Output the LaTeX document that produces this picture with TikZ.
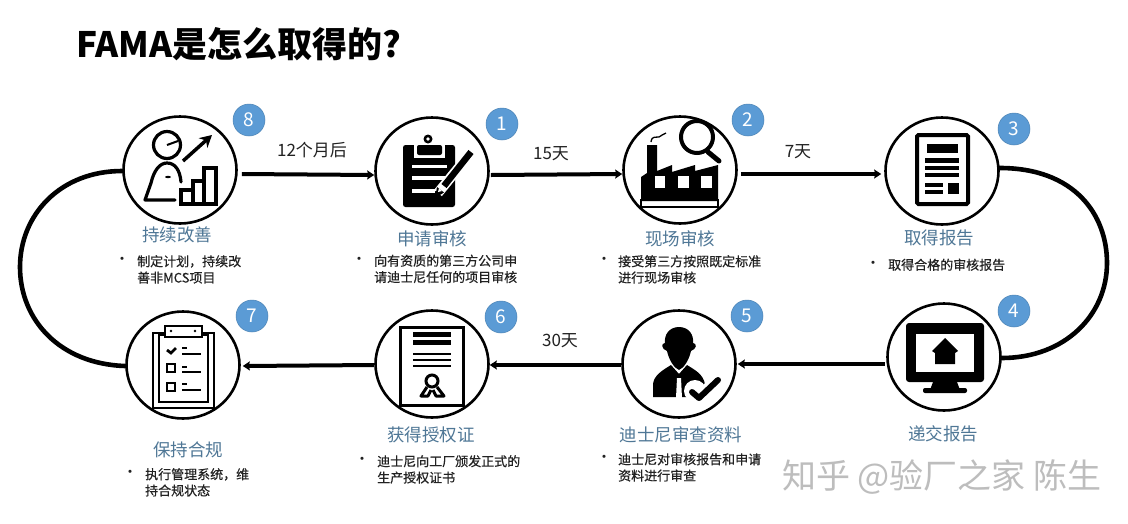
\documentclass[tikz,border=0pt]{standalone}
\usepackage{fontspec}
\setmainfont{Noto Sans CJK SC}
\newfontfamily\bodyface[FakeBold=0.5]{Noto Sans CJK SC}
\usetikzlibrary{arrows.meta,shapes.geometric}
\definecolor{badgeblue}{HTML}{5B9BD5}
\definecolor{headblue}{HTML}{4F7796}
\definecolor{bodyink}{HTML}{222222}
\definecolor{markgray}{HTML}{BDBDBD}
\tikzset{
  stepring/.style={draw=black,line width=2.6pt,ellipse,fill=none,inner sep=0pt,minimum width=113pt,minimum height=107pt},
  badge/.style={circle,fill=badgeblue,draw=badgeblue!85!black,line width=.5pt,minimum size=32pt,inner sep=0pt,text=white,font=\fontsize{19}{19}\selectfont},
  flow/.style={line width=4pt,-{Stealth[length=7pt,width=9pt,inset=1pt]}},
  loopline/.style={line width=4.6pt,line cap=round},
  gaplabel/.style={font=\fontsize{17}{17}\selectfont,text=bodyink,inner sep=0pt},
  headlabel/.style={font=\fontsize{17.5}{17.5}\selectfont,text=headblue,inner sep=0pt},
  bodytext/.style={font=\fontsize{13}{16.3}\bodyface\selectfont,text=bodyink,align=left,anchor=north west,inner sep=0pt},
  dotmark/.style={font=\fontsize{15}{15}\selectfont,text=bodyink,inner sep=0pt},
  ink/.style={draw=black,fill=none,line width=3.2pt},
  paper/.style={fill=white,draw=none}
}
\begin{document}
\begin{tikzpicture}[x=1pt,y=-1pt]
\useasboundingbox (0,0) rectangle (1128,523);
\fill[white] (0,0) rectangle (1128,523);

\node[anchor=west,inner sep=0pt,font=\fontsize{35}{35}\selectfont\bfseries] (title) at (76,44) {FAMA是怎么取得的?};

% rings
\node[stepring] (n8) at (180,170) {};
\node[stepring] (n1) at (432,171) {};
\node[stepring] (n2) at (680,170) {};
\node[stepring] (n3) at (942,171) {};
\node[stepring] (n4) at (944,357) {};
\node[stepring] (n5) at (679,364) {};
\node[stepring] (n6) at (432,364) {};
\node[stepring] (n7) at (183,365) {};

% badges
\node[badge] (b8) at (249,120) {8};
\node[badge] (b1) at (502,124) {1};
\node[badge] (b2) at (748,120) {2};
\node[badge] (b3) at (1014,129) {3};
\node[badge] (b4) at (1014,311) {4};
\node[badge] (b5) at (747,316) {5};
\node[badge] (b6) at (501,317) {6};
\node[badge] (b7) at (252,316) {7};

% connectors
\draw[flow] ([yshift=-4pt,xshift=4pt]n8.east) -- ([yshift=-4pt]n1.west);
\draw[flow] ([yshift=-4pt,xshift=1pt]n1.east) -- ([yshift=-4pt]n2.west);
\draw[flow] ([yshift=-4pt,xshift=3pt]n2.east) -- ([yshift=-3pt,xshift=-3pt]n3.west);
\draw[flow] ([yshift=-7pt,xshift=-1pt]n4.west) -- ([yshift=0pt,xshift=1pt]n5.east);
\draw[flow] ([yshift=-1pt]n5.west) -- ([yshift=-1pt]n6.east);
\draw[flow] ([yshift=-1pt]n6.west) -- ([yshift=-1pt,xshift=2pt]n7.east);
\draw[loopline] ([yshift=3pt]n3.east) .. controls (1075,168) and (1107,215) .. (1107,263)
   .. controls (1107,315) and (1065,358) .. ([yshift=-1pt]n4.east);
\draw[loopline] ([yshift=-1pt]n7.west) .. controls (60,364) and (20,320) .. (20,267)
   .. controls (20,215) and (60,171) .. ([yshift=-1pt]n8.west);

% gap labels
\node[gaplabel] (g1) at (312,150) {12个月后};
\node[gaplabel] (g2) at (551,154) {15天};
\node[gaplabel] (g3) at (798,152) {7天};
\node[gaplabel] (g4) at (560,341) {30天};

% step titles
\node[headlabel] (h8) at (177,235) {持续改善};
\node[headlabel] (h1) at (432,239) {申请审核};
\node[headlabel] (h2) at (680,239) {现场审核};
\node[headlabel] (h3) at (939,238) {取得报告};
\node[headlabel] (h4) at (943,434) {递交报告};
\node[headlabel] (h5) at (681,435) {迪士尼审查资料};
\node[headlabel] (h6) at (431,435) {获得授权证};
\node[headlabel] (h7) at (188,450) {保持合规};

% bullets and text
\node[dotmark] (d8) at (122,261) {•};
\node[bodytext] (t8) at (137,255) {制定计划，持续改\\善非MCS项目};
\node[dotmark] (d1) at (359,261) {•};
\node[bodytext] (t1) at (374,254.5) {向有资质的第三方公司申\\请迪士尼任何的项目审核};
\node[dotmark] (d2) at (604,261) {•};
\node[bodytext] (t2) at (618,255) {接受第三方按照既定标准\\进行现场审核};
\node[dotmark] (d3) at (873,265) {•};
\node[bodytext] (t3) at (888,258.5) {取得合格的审核报告};
\node[dotmark] (d5) at (604,459) {•};
\node[bodytext] (t5) at (618,453) {迪士尼对审核报告和申请\\资料进行审查};
\node[dotmark] (d6) at (362,461) {•};
\node[bodytext] (t6) at (377,455) {迪士尼向工厂颁发正式的\\生产授权证书};
\node[dotmark] (d7) at (130,474) {•};
\node[bodytext] (t7) at (145,468) {执行管理系统，维\\持合规状态};

% watermark
\node[anchor=west,inner sep=0pt,text=markgray,font=\fontsize{34}{34}\selectfont] (wm) at (782,477) {知乎 @验厂之家 陈生};

% icon 8
\draw[ink] (167,145) circle (13.5pt);
\draw[line width=2pt] (167,145) -- (178,141);
\draw[line width=3.5pt,-{Stealth[length=12pt,width=13pt]}] (183,161) -- (212,135);
\draw[ink,line cap=round,line join=round] (175,200) -- (145,200) -- (151,183) .. controls (154,170) and (160,163) .. (167,163) .. controls (175,163) and (180,170) .. (181,182);
\fill (168,177) ellipse (3pt and 1.2pt);
\draw[ink] (181,204) rectangle (193,190);
\draw[ink] (193,204) -- (193,181) -- (204,181) -- (204,204);
\draw[ink] (204,204) -- (204,168) -- (216,168) -- (216,204) -- (181,204);

% icon 1
\fill[rounded corners=2.5pt] (403,145) rectangle (455,207);
\draw[paper] (414,141) rectangle (445,158);
\fill[rounded corners=2pt] (417,145) rectangle (442,155);
\fill (428,139) circle (4.5pt);
\fill[white] (428,139) circle (1.8pt);
\fill[white] (412,164.5) rectangle (447,168);
\fill[white] (412,176) rectangle (447,180);
\fill[white] (412,189) rectangle (435,193);
\draw[white,line width=10pt] (438,193) -- (473,150);
\draw[black,line width=6.5pt] (444,186) -- (471,152);
\fill (435,198) -- (437,187) -- (444,192.5) -- cycle;
\fill[white] (438,192) -- (439,188) -- (442,191) -- cycle;

% icon 2
\draw[black,line width=1.5pt,fill=white] (641,200) rectangle (718,207);
\fill (641,201) -- (641,177) -- (647,173) -- (647,145) -- (657,145) -- (657,171) -- (672,165) -- (672,172) -- (695,165) -- (695,171) -- (718,165) -- (718,201) -- cycle;
\fill[white] (655,176) rectangle (665,188);
\fill[white] (678,176) rectangle (689,188);
\fill[white] (701,176) rectangle (712,188);
\draw[line width=1.3pt] (651,142) .. controls (652,135) and (656,138) .. (659,137) .. controls (661,136) and (663,134) .. (666,133);
\draw[white,line width=9pt] (707,152) -- (719,161);
\draw[line width=5pt,line cap=round] (708,152) -- (719,161);
\draw[line width=4pt,fill=white] (697,137) circle (16pt);

% icon 3
\draw[line width=4pt,rounded corners=1.5pt] (917,135) rectangle (968,204);
\fill (927,144) rectangle (958,153);
\fill (925,158) rectangle (959,163);
\fill (925,166) rectangle (959,170);
\fill (925,173) rectangle (959,177);
\fill (925,183) rectangle (943,187);
\fill (925,190) rectangle (943,194);
\fill (948,183) rectangle (959,194);

% icon 4
\fill[rounded corners=3pt] (906,323) rectangle (984,382);
\fill[white] (916,334) rectangle (974,372);
\fill (945,338) -- (958,351) -- (955,353) -- (955,364) -- (935,364) -- (935,353) -- (932,351) -- cycle;
\fill (933,382) -- (957,382) -- (960,390) -- (930,390) -- cycle;
\fill[rounded corners=2pt] (923,388) rectangle (967,393);

% icon 5
\fill (679,327) .. controls (669,327) and (664,335) .. (665,343) .. controls (661,343) and (661,349) .. (667,351) .. controls (669,360) and (674,368) .. (679,370) .. controls (684,368) and (689,360) .. (691,351) .. controls (697,349) and (697,343) .. (693,343) .. controls (694,335) and (689,327) .. (679,327) -- cycle;
\fill (653,397) -- (653,384) .. controls (654,375) and (663,370) .. (671,365) -- (679,374) -- (687,365) .. controls (695,370) and (703,374) .. (705,384) -- (705,397) -- cycle;
\fill[white] (677,378) -- (681,378) -- (682,398) -- (676,398) -- cycle;
\draw[white,line width=11pt] (690,390) -- (698,398) -- (718,378);
\fill[white] (695,391) circle (11pt);
\draw[line width=6pt,line cap=round,line join=round] (692,392) -- (699,398) -- (718,380);

% icon 6
\draw[line width=3pt] (400,327) rectangle (463,405);
\fill (413,332) rectangle (451,337);
\fill (413,340) rectangle (451,345);
\fill (413,353) rectangle (451,355);
\fill (413,359) rectangle (451,361);
\fill (413,365) rectangle (451,367);
\draw[line width=3pt] (432,381) circle (6pt);
\draw[line width=3pt,line join=round] (427,387) -- (421,396) -- (428,396) -- (431,390);
\draw[line width=3pt,line join=round] (437,387) -- (444,396) -- (436,396) -- (433,390);

% icon 7
\draw[line width=2.6pt] (153,333) -- (153,408) -- (214,408) -- (214,333) -- cycle;
\draw[line width=2.6pt] (159,335) rectangle (208,402);
\draw[line width=2.4pt,fill=white] (165,326) rectangle (202,337);
\fill (171,331) circle (1.3pt);
\fill (195,331) circle (1.3pt);
\draw[line width=2.8pt] (167,350) -- (171,353) -- (176,348);
\draw[line width=1.8pt] (182,348) -- (187,348) (182,354) -- (201,354);
\draw[line width=2.6pt] (167,364) rectangle (175,372);
\draw[line width=1.8pt] (182,367) -- (187,367) (182,372) -- (201,372);
\draw[line width=2.6pt] (167,383) rectangle (175,391);
\draw[line width=1.8pt] (182,384) -- (187,384) (182,390) -- (201,390);
\end{tikzpicture}
\end{document}
